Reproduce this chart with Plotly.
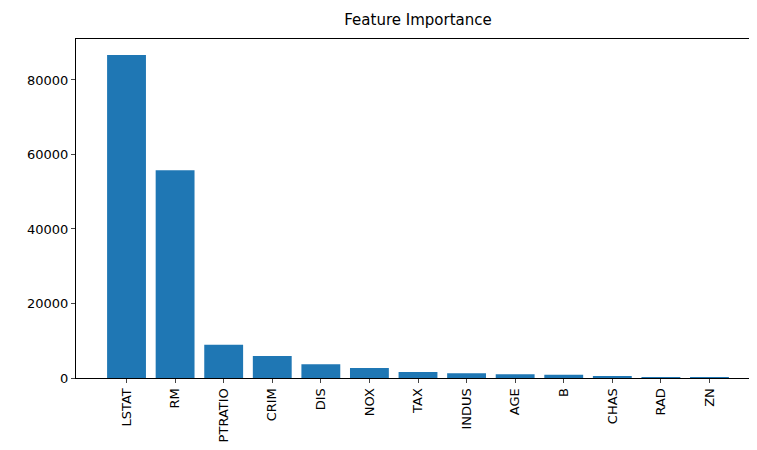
import plotly.graph_objects as go

features = ["LSTAT","RM","PTRATIO","CRIM","DIS","NOX","TAX","INDUS","AGE","B","CHAS","RAD","ZN"]
importance = [86700, 55800, 8900, 5900, 3700, 2700, 1600, 1300, 1000, 900, 300, 60, 20]
yticks = [0, 20000, 40000, 60000, 80000]

fig = go.Figure(go.Bar(x=list(range(len(features))), y=importance, width=0.8,
                       marker=dict(color="#1f77b4", line=dict(width=0))))
fig.update_layout(
    width=757, height=450, margin=dict(l=68, r=5, t=31, b=80, autoexpand=False),
    plot_bgcolor="white", paper_bgcolor="white",
    font=dict(family="DejaVu Sans", size=13, color="black"),
    title=dict(text="Feature Importance", x=0.5, xref="paper", y=1, yref="container",
               yanchor="top", pad=dict(t=6), font=dict(size=15)),
    showlegend=False,
)
fig.update_xaxes(range=[-1.04, 13.04], tickvals=list(range(len(features))), ticktext=features,
                 tickangle=-90, showgrid=False, zeroline=False, showline=True, mirror=True,
                 linecolor="black", linewidth=1, ticks="outside", ticklen=4, automargin=False)
fig.update_yaxes(range=[0, 91000], tickvals=yticks, ticktext=[str(v) for v in yticks],
                 showgrid=False, zeroline=False, showline=True, mirror=True,
                 linecolor="black", linewidth=1, ticks="outside", ticklen=4, automargin=False)
fig.write_html("out.html")
